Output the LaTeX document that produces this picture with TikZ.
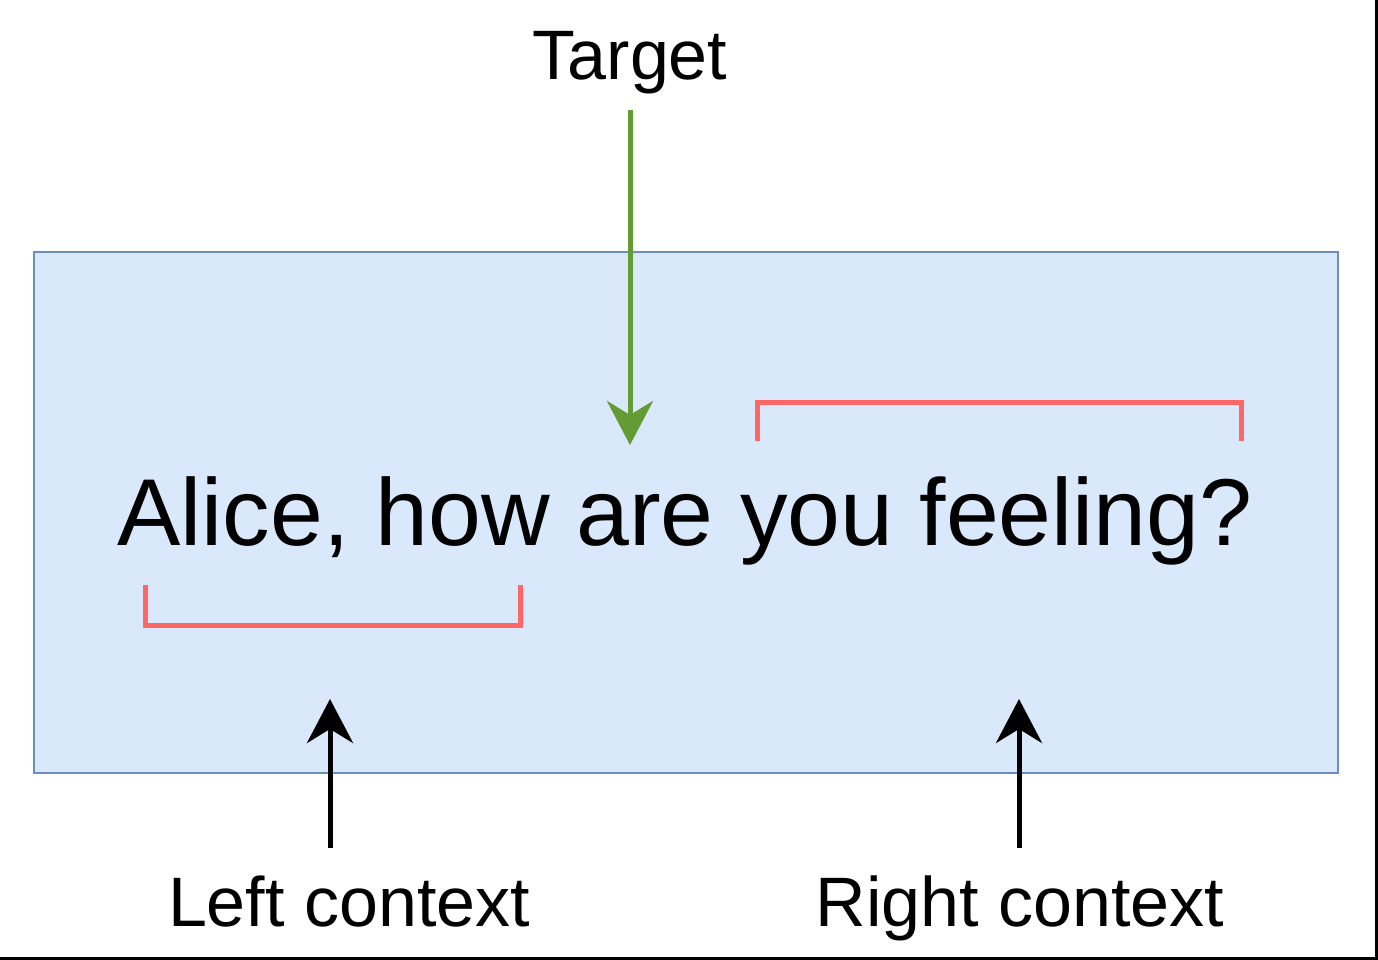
\documentclass[tikz,border=0pt]{standalone}
\usepackage{fontspec}
\setmainfont{Liberation Sans}
\usetikzlibrary{arrows.meta}
\definecolor{bfill}{HTML}{DAE8FC}
\definecolor{bdraw}{HTML}{6C8EBF}
\definecolor{gr}{HTML}{629C32}
\definecolor{rd}{HTML}{FF6666}
\begin{document}
\begin{tikzpicture}[x=1pt,y=-1pt,
  lbl/.style={font=\fontsize{70}{80}\selectfont,inner sep=0,anchor=base},
  arr/.style={line width=5pt,-{Stealth[length=44pt,width=46pt,inset=14pt]}},
  brk/.style={rd,line width=5pt}]
\useasboundingbox (0,0) rectangle (1378,960);
\fill[white] (0,0) rectangle (1378,960);
\draw[line width=3pt] (1376,0) -- (1376,958.5) -- (0,958.5);
\node[draw=bdraw,fill=bfill,line width=2.5pt,minimum width=1304pt,minimum height=521pt,inner sep=0] (box) at (686,512.5) {};
\node[font=\fontsize{95}{110}\selectfont,inner sep=0,anchor=base] (main) at (685,545) {Alice, how are you feeling?};
\node[lbl] (target) at (630,80) {Target};
\node[lbl] (left) at (349,926) {Left context};
\node[lbl] (right) at (1020,926) {Right context};
\coordinate (gt) at (630,110); \coordinate (gh) at (630,445);
\draw[arr,gr] (gt) -- (gh);
\coordinate (lt) at (330,848); \coordinate (lh) at (330,699);
\draw[arr] (lt) -- (lh);
\coordinate (rt) at (1019,848); \coordinate (rh) at (1019,699);
\draw[arr] (rt) -- (rh);
\draw[brk] (757,441) -- (757,402) -- (1241,402) -- (1241,441);
\draw[brk] (145,585) -- (145,625) -- (520,625) -- (520,585);
\end{tikzpicture}
\end{document}
